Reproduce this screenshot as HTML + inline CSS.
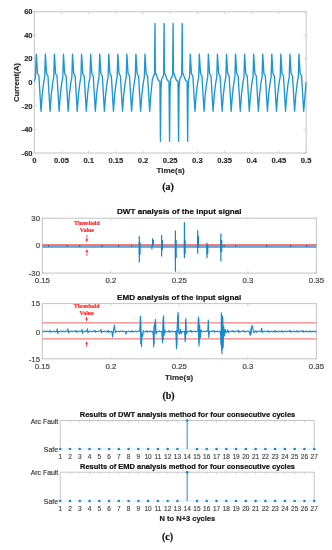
<!DOCTYPE html>
<html><head><meta charset="utf-8"><title>Figure</title>
<style>html,body{margin:0;padding:0;background:#fff;width:332px;height:550px;overflow:hidden}svg{display:block}</style>
</head><body>
<svg width="332" height="550" viewBox="0 0 332 550">
<rect width="332" height="550" fill="#fff"/>
<rect x="34.3" y="11.7" width="271.8" height="141.3" fill="none" stroke="#c4c4c4" stroke-width="1"/>
<path d="M34.3 153v-2.5M34.3 11.7v2.5M61.48 153v-2.5M61.48 11.7v2.5M88.66 153v-2.5M88.66 11.7v2.5M115.84 153v-2.5M115.84 11.7v2.5M143.02 153v-2.5M143.02 11.7v2.5M170.2 153v-2.5M170.2 11.7v2.5M197.38 153v-2.5M197.38 11.7v2.5M224.56 153v-2.5M224.56 11.7v2.5M251.74 153v-2.5M251.74 11.7v2.5M278.92 153v-2.5M278.92 11.7v2.5M306.1 153v-2.5M306.1 11.7v2.5M34.3 153h2.5M306.1 153h-2.5M34.3 129.45h2.5M306.1 129.45h-2.5M34.3 105.9h2.5M306.1 105.9h-2.5M34.3 82.35h2.5M306.1 82.35h-2.5M34.3 58.8h2.5M306.1 58.8h-2.5M34.3 35.25h2.5M306.1 35.25h-2.5M34.3 11.7h2.5M306.1 11.7h-2.5" stroke="#c8c8c8" stroke-width="0.7" fill="none"/>
<path d="M34.3 81.17 L35.4 77.64 L36.3 54.09 L37.5 73.64 L38.1 74.58 L38.9 75.76 L41 111.32 L42.2 94.83 L43.6 83.17 L44.2 79.52 L44.7 77.17 L45.36 54.09 L46.56 73.64 L47.16 74.58 L47.96 75.76 L50.06 111.32 L51.26 94.83 L52.66 83.17 L53.26 79.52 L53.76 77.17 L54.41 54.09 L55.61 73.64 L56.21 74.58 L57.01 75.76 L59.11 111.32 L60.31 94.83 L61.71 83.17 L62.31 79.52 L62.81 77.17 L63.47 54.09 L64.67 73.64 L65.27 74.58 L66.07 75.76 L68.17 111.32 L69.37 94.83 L70.77 83.17 L71.37 79.52 L71.87 77.17 L72.53 54.09 L73.73 73.64 L74.33 74.58 L75.13 75.76 L77.23 111.32 L78.43 94.83 L79.83 83.17 L80.43 79.52 L80.93 77.17 L81.59 54.09 L82.79 73.64 L83.39 74.58 L84.19 75.76 L86.29 111.32 L87.49 94.83 L88.89 83.17 L89.49 79.52 L89.99 77.17 L90.64 54.09 L91.84 73.64 L92.44 74.58 L93.24 75.76 L95.34 111.32 L96.54 94.83 L97.94 83.17 L98.54 79.52 L99.04 77.17 L99.7 54.09 L100.9 73.64 L101.5 74.58 L102.3 75.76 L104.4 111.32 L105.6 94.83 L107 83.17 L107.6 79.52 L108.1 77.17 L108.76 54.09 L109.96 73.64 L110.56 74.58 L111.36 75.76 L113.46 111.32 L114.66 94.83 L116.06 83.17 L116.66 79.52 L117.16 77.17 L117.81 54.09 L119.01 73.64 L119.61 74.58 L120.41 75.76 L122.51 111.32 L123.71 94.83 L125.11 83.17 L125.71 79.52 L126.21 77.17 L126.87 54.09 L128.07 73.64 L128.67 74.58 L129.47 75.76 L131.57 111.32 L132.77 94.83 L134.17 83.17 L134.77 79.52 L135.27 77.17 L135.93 54.09 L137.13 73.64 L137.73 74.58 L138.53 75.76 L140.63 111.32 L141.83 94.83 L143.23 83.17 L143.83 79.52 L144.33 77.17 L144.98 54.09 L146.18 73.64 L146.78 74.58 L147.58 75.76 L149.68 111.32 L150.68 96.48 L152.38 79.29 L153.58 75.76 L154.5 74.7 L155 23.47 L155.35 72.93 L156.2 74.11 L157.4 78.11 L158.6 80.7 L159.9 81.17 L160.45 141.22 L160.95 89.41 L161.6 79.29 L162.8 76.93 L163.6 75.4 L163.6 74.7 L164.1 23.47 L164.45 72.93 L165.3 74.11 L166.5 78.11 L167.7 80.7 L169 81.17 L169.55 141.22 L170.05 89.41 L170.7 79.29 L171.9 76.93 L172.7 75.4 L172.6 74.7 L173.1 23.47 L173.45 72.93 L174.3 74.11 L175.5 78.11 L176.7 80.7 L178 81.17 L178.55 141.22 L179.05 89.41 L179.7 79.29 L180.9 76.93 L181.7 75.4 L181.7 74.7 L182.2 23.47 L182.55 72.93 L183.4 74.11 L184.6 78.11 L185.8 80.7 L187.1 81.17 L187.65 141.22 L188.15 89.41 L188.8 79.29 L189.6 76.46 L190.27 54.09 L191.47 73.64 L192.07 74.58 L192.87 75.76 L194.97 111.32 L196.17 94.83 L197.57 83.17 L198.17 79.52 L198.67 77.17 L199.33 54.09 L200.53 73.64 L201.13 74.58 L201.93 75.76 L204.03 111.32 L205.23 94.83 L206.63 83.17 L207.23 79.52 L207.73 77.17 L208.38 54.09 L209.58 73.64 L210.18 74.58 L210.98 75.76 L213.08 111.32 L214.28 94.83 L215.68 83.17 L216.28 79.52 L216.78 77.17 L217.44 54.09 L218.64 73.64 L219.24 74.58 L220.04 75.76 L222.14 111.32 L223.34 94.83 L224.74 83.17 L225.34 79.52 L225.84 77.17 L226.5 54.09 L227.7 73.64 L228.3 74.58 L229.1 75.76 L231.2 111.32 L232.4 94.83 L233.8 83.17 L234.4 79.52 L234.9 77.17 L235.55 54.09 L236.75 73.64 L237.35 74.58 L238.15 75.76 L240.25 111.32 L241.45 94.83 L242.85 83.17 L243.45 79.52 L243.95 77.17 L244.61 54.09 L245.81 73.64 L246.41 74.58 L247.21 75.76 L249.31 111.32 L250.51 94.83 L251.91 83.17 L252.51 79.52 L253.01 77.17 L253.67 54.09 L254.87 73.64 L255.47 74.58 L256.27 75.76 L258.37 111.32 L259.57 94.83 L260.97 83.17 L261.57 79.52 L262.07 77.17 L262.73 54.09 L263.93 73.64 L264.53 74.58 L265.33 75.76 L267.43 111.32 L268.62 94.83 L270.03 83.17 L270.62 79.52 L271.12 77.17 L271.78 54.09 L272.98 73.64 L273.58 74.58 L274.38 75.76 L276.48 111.32 L277.68 94.83 L279.08 83.17 L279.68 79.52 L280.18 77.17 L280.84 54.09 L282.04 73.64 L282.64 74.58 L283.44 75.76 L285.54 111.32 L286.74 94.83 L288.14 83.17 L288.74 79.52 L289.24 77.17 L289.9 54.09 L291.1 73.64 L291.7 74.58 L292.5 75.76 L294.6 111.32 L295.8 94.83 L297.2 83.17 L297.8 79.52 L298.3 77.17 L298.95 54.09 L300.15 73.64 L300.75 74.58 L301.55 75.76 L303.65 111.32 L306.1 82.35" fill="none" stroke="#1c96d5" stroke-width="1.35" stroke-linejoin="round"/>
<g font-family="'Liberation Sans', Arial, sans-serif" font-weight="bold" font-size="7.6" fill="#262626" stroke="#262626" stroke-width="0.12">
<text x="34.3" y="162.6" text-anchor="middle">0</text>
<text x="61.48" y="162.6" text-anchor="middle">0.05</text>
<text x="88.66" y="162.6" text-anchor="middle">0.1</text>
<text x="115.84" y="162.6" text-anchor="middle">0.15</text>
<text x="143.02" y="162.6" text-anchor="middle">0.2</text>
<text x="170.2" y="162.6" text-anchor="middle">0.25</text>
<text x="197.38" y="162.6" text-anchor="middle">0.3</text>
<text x="224.56" y="162.6" text-anchor="middle">0.35</text>
<text x="251.74" y="162.6" text-anchor="middle">0.4</text>
<text x="278.92" y="162.6" text-anchor="middle">0.45</text>
<text x="306.1" y="162.6" text-anchor="middle">0.5</text>
<text x="32.6" y="155.65" text-anchor="end">-60</text>
<text x="32.6" y="132.1" text-anchor="end">-40</text>
<text x="32.6" y="108.55" text-anchor="end">-20</text>
<text x="32.6" y="85" text-anchor="end">0</text>
<text x="32.6" y="61.45" text-anchor="end">20</text>
<text x="32.6" y="37.9" text-anchor="end">40</text>
<text x="32.6" y="14.35" text-anchor="end">60</text>
</g>
<text x="170.6" y="173.2" text-anchor="middle" font-family="'Liberation Sans', Arial, sans-serif" font-weight="bold" font-size="8" fill="#333" stroke="#333" stroke-width="0.2">Time(s)</text>
<text transform="translate(19.2 82.6) rotate(-90)" text-anchor="middle" font-family="'Liberation Sans', Arial, sans-serif" font-weight="bold" font-size="7.8" fill="#333" stroke="#333" stroke-width="0.2">Current(A)</text>
<text x="168" y="190.3" text-anchor="middle" font-family="'Liberation Serif', 'Times New Roman', serif" font-weight="bold" font-size="10" fill="#111" stroke="#111" stroke-width="0.2">(a)</text>
<rect x="42.3" y="218.2" width="274.1" height="54.9" fill="none" stroke="#c4c4c4" stroke-width="1"/>
<path d="M42.3 273.1v-2.5M42.3 218.2v2.5M110.83 273.1v-2.5M110.83 218.2v2.5M179.35 273.1v-2.5M179.35 218.2v2.5M247.88 273.1v-2.5M247.88 218.2v2.5M316.4 273.1v-2.5M316.4 218.2v2.5M42.3 273.1h2.5M316.4 273.1h-2.5M42.3 245.65h2.5M316.4 245.65h-2.5M42.3 218.2h2.5M316.4 218.2h-2.5" stroke="#c8c8c8" stroke-width="0.7" fill="none"/>
<text x="179.3" y="214.3" text-anchor="middle" font-family="'Liberation Sans', Arial, sans-serif" font-weight="bold" font-size="8.1" fill="#111" stroke="#111" stroke-width="0.2">DWT analysis of the input signal</text>
<path d="M42.3 244.5H316.4M42.3 247.5H316.4" stroke="#f58080" stroke-width="1.1"/>
<path d="M42.3 246H316.4" stroke="#3489cc" stroke-width="1.5"/>
<path d="M48 245.9h1.2M66.7 245.9h1.2M79 245.9h1.2M101.5 245.9h1.2M118 245.9h1.2M131 245.9h1.2M223.5 245.9h1.2M235 245.9h1.2M266 245.9h1.2M290 245.9h1.2M306 245.9h1.2" stroke="#0d4f8c" stroke-width="1.3"/>
<path d="M139.3 236.3V262.6M152.6 238.3V246.5M161.6 234.9V256.4M175.4 230.4V271.8M184.4 222.2V258.2M197.7 230.2V253.8M207 242.8V257.9M220.9 233.6V261.6M151.9 245.5V249.6" stroke="#1582c8" stroke-width="1.2" fill="none"/>
<path d="M139.7 242.3V254.4M153 240V245M162 240V250M175.8 240V258M184.8 240.6V254.1M198.1 236V248M207.4 245V254M221.3 240V252" stroke="#1582c8" stroke-width="1.9" fill="none"/>
<g font-family="'Liberation Serif', 'Times New Roman', serif" font-weight="bold" font-size="5.9" fill="#ff2020" stroke="#ff2020" stroke-width="0.15" text-anchor="middle">
<text x="86.9" y="225.2">Threshold</text>
<text x="86.9" y="232.2">Value</text>
</g>
<path d="M86.9 234.7V240.2" stroke="#ff2a2a" stroke-width="0.8"/>
<path d="M85.5 239.2L88.3 239.2L86.9 242.2Z" fill="#ff2a2a"/>
<path d="M86.9 256V251" stroke="#ff2a2a" stroke-width="0.8"/>
<path d="M85.5 252L88.3 252L86.9 249Z" fill="#ff2a2a"/>
<g font-family="'Liberation Sans', Arial, sans-serif" font-size="7.8" fill="#444" stroke="#444" stroke-width="0.2">
<text x="40.0" y="220.9" text-anchor="end">30</text>
<text x="40.0" y="248.4" text-anchor="end">0</text>
<text x="40.0" y="276.1" text-anchor="end">-30</text>
<text x="42.3" y="283.3" text-anchor="middle">0.15</text>
<text x="110.83" y="283.3" text-anchor="middle">0.2</text>
<text x="179.35" y="283.3" text-anchor="middle">0.25</text>
<text x="247.88" y="283.3" text-anchor="middle">0.3</text>
<text x="316.4" y="283.3" text-anchor="middle">0.35</text>
</g>
<rect x="42.3" y="303.6" width="274.1" height="55.2" fill="none" stroke="#c4c4c4" stroke-width="1"/>
<path d="M42.3 358.8v-2.5M42.3 303.6v2.5M110.83 358.8v-2.5M110.83 303.6v2.5M179.35 358.8v-2.5M179.35 303.6v2.5M247.88 358.8v-2.5M247.88 303.6v2.5M316.4 358.8v-2.5M316.4 303.6v2.5M42.3 303.6h2.5M316.4 303.6h-2.5M42.3 331.2h2.5M316.4 331.2h-2.5M42.3 358.8h2.5M316.4 358.8h-2.5" stroke="#c8c8c8" stroke-width="0.7" fill="none"/>
<text x="179.1" y="299.9" text-anchor="middle" font-family="'Liberation Sans', Arial, sans-serif" font-weight="bold" font-size="8.1" fill="#111" stroke="#111" stroke-width="0.2">EMD analysis of the input signal</text>
<path d="M42.3 322.8H316.4M42.3 338.8H316.4" stroke="#f58080" stroke-width="1.3"/>
<path d="M42.3 331.4L43.3 331.85L44.6 331.05L45.9 331.85L47.2 331.05L48.5 331.85L49.4 331.4L50 330.4L50.5 332.2L51.1 331.4L52.1 331.85L53.4 331.05L54.7 331.85L56.6 331.4L57.2 328.8L57.7 333.6L58.3 331.4L59.3 331.85L60.6 331.05L61.9 331.85L63.2 331.05L64.5 331.85L65.8 331.05L67.4 331.4L68 328.8L68.5 332.9L69.1 331.4L70.1 331.85L71.4 331.05L72.7 331.85L74 331.05L75.4 331.4L76 330.4L76.5 332.2L77.1 331.4L78.1 331.85L79.4 331.05L81.4 331.4L82 329.4L82.5 333.4L83.1 331.4L84.1 331.85L85.4 331.05L86.8 331.4L87.4 328.8L87.9 333L88.5 331.4L89.5 331.85L90.8 331.05L92.1 331.85L93.4 331.05L94.4 331.4L95 330.4L95.5 332.3L96.1 331.4L97.1 331.85L98.4 331.05L100.4 331.4L101 329.4L101.5 332.6L102.1 331.4L103.1 331.85L104.4 331.05L105.7 331.85L107.4 331.4L108 330.2L108.5 332.4L109.1 331.4L110.1 331.85L112 331.4L112.6 337L113.6 330L114.5 325.2L115.3 332.5L116 331.4L117 331.85L118.3 331.05L119.6 331.85L120.9 331.05L122.2 331.85L123.5 331.05L124.8 331.4L125.4 331.9L125.9 334L126.5 331.4L127.5 331.85L128.8 331.05L130.1 331.85L131.4 331.4L132 330.7L132.5 332L133.1 331.4L134.1 331.85L135.4 331.05L136.7 331.85L138 331.05L139.8 331.4L140.4 316L141 331L141.5 346.5L142 333L142.6 336.4L143.3 330.5L144 331.8L145 331.85L146.4 331.4L147 330.6L147.5 332.2L148.1 331.4L149.1 331.85L150.4 331.05L151.7 331.85L152.8 331.4L153.3 336L153.7 346.9L154.2 330L154.6 324L155 328L155.5 319.4L156 334L156.6 332.5L157.2 331.4L158.2 331.85L159.5 331.05L160.8 331.85L161.8 331.4L162.5 342.8L163 325L163.6 315.9L164.1 335.5L164.8 330L165.5 332L166.5 331.85L168.4 331.4L169 330.5L169.5 332.4L170.1 331.4L171.1 331.85L172.4 331.05L173.7 331.85L175.8 331.4L176.5 348.6L177.2 327L178.1 312.2L178.8 333L179.6 334L180.4 329L181.2 333.8L182 331.4L183 331.85L184.6 331.4L185.2 341.7L185.8 318.5L186.4 334L187.2 331.4L188.2 331.85L189.5 331.05L190.4 331.4L191 330.4L191.5 332.2L192.1 331.4L193.1 331.85L194.4 331.05L195.7 331.85L197.8 331.4L198.5 317L199 346L199.6 325L200.3 338L201 330L201.8 331.4L202.8 331.85L204.1 331.05L205.4 331.85L206.7 331.05L207.8 331.4L208.3 320L208.8 337.5L209.4 331.4L210.4 331.85L211.7 331.05L213.4 331.4L214 330.5L214.5 332.2L215.1 331.4L216.1 331.85L217.4 331.05L218.7 331.85L220.5 331.4L221 345L221.4 312.8L221.9 353.8L222.5 316L223.1 348L223.7 326L224.4 336L225.2 329.5L226 332.5L226.8 331.4L227.1 331.4L227.7 329.8L228.2 332.6L228.8 331.4L229.8 331.85L231.1 331.05L232.4 331.4L233 330.6L233.5 332L234.1 331.4L235.1 331.85L236.4 331.05L237.9 331.4L238.5 330.2L239 332.4L239.6 331.4L240.6 331.85L241.9 331.05L243.4 331.4L244 330.7L244.5 332L245.1 331.4L246.1 331.85L247.4 331.05L249.4 331.4L250.2 335.5L251.4 327L252.4 325.6L253.3 331.5L254 332.6L254.8 331.4L255.4 331.4L256 330.6L256.5 332.1L257.1 331.4L258.1 331.85L259.4 331.05L261.1 331.4L261.7 328.2L262.2 332.4L262.8 331.4L263.8 331.85L265.1 331.05L266.4 331.85L267.4 331.4L268 330.6L268.5 332.1L269.1 331.4L270.1 331.85L271.4 331.05L272.7 331.85L274.4 331.4L275 330.4L275.5 332.2L276.1 331.4L277.1 331.85L278.4 331.05L279.7 331.85L281.4 331.4L282 330.7L282.5 332L283.1 331.4L284.1 331.85L285.4 331.05L286.7 331.85L288 331.05L289.4 331.4L290 330.4L290.5 332.2L291.1 331.4L292.1 331.85L293.4 331.05L294.7 331.85L296.4 331.4L297 330.7L297.5 332L298.1 331.4L299.1 331.85L300.4 331.05L302.4 331.4L303 330.5L303.5 332.1L304.1 331.4L305.1 331.85L306.4 331.05L307.7 331.85L309.4 331.4L310 330.8L310.5 331.9L311.1 331.4L312.1 331.85L313.4 331.05L314.7 331.85L316.4 331.4" stroke="#1a8bd0" stroke-width="1.15" fill="none" stroke-linejoin="round"/>
<path d="M140.7 320V344M154 326V344M155.2 321V333M163.2 318V340M176.8 330V346M177.8 315V332M185.6 321V339M198.9 319V343M208.5 322V335M221.6 315V351M222.8 318V346M251.3 328V334" stroke="#1a86cc" stroke-width="1.0" fill="none"/>
<g font-family="'Liberation Serif', 'Times New Roman', serif" font-weight="bold" font-size="5.9" fill="#ff2020" stroke="#ff2020" stroke-width="0.15" text-anchor="middle">
<text x="86.6" y="308.2">Threshold</text>
<text x="86.6" y="314.9">Value</text>
</g>
<path d="M86.6 316.8V319.6" stroke="#ff2a2a" stroke-width="0.8"/>
<path d="M85.2 318.6L88 318.6L86.6 321.6Z" fill="#ff2a2a"/>
<path d="M86.6 346.6V343.2" stroke="#ff2a2a" stroke-width="0.8"/>
<path d="M85.2 344.2L88 344.2L86.6 341.2Z" fill="#ff2a2a"/>
<g font-family="'Liberation Sans', Arial, sans-serif" font-size="7.8" fill="#444" stroke="#444" stroke-width="0.2">
<text x="40.0" y="306.4" text-anchor="end">15</text>
<text x="40.0" y="334.5" text-anchor="end">0</text>
<text x="40.0" y="362.4" text-anchor="end">-15</text>
<text x="42.3" y="368.9" text-anchor="middle">0.15</text>
<text x="110.83" y="368.9" text-anchor="middle">0.2</text>
<text x="179.35" y="368.9" text-anchor="middle">0.25</text>
<text x="247.88" y="368.9" text-anchor="middle">0.3</text>
<text x="316.4" y="368.9" text-anchor="middle">0.35</text>
</g>
<text x="179.1" y="380.4" text-anchor="middle" font-family="'Liberation Sans', Arial, sans-serif" font-weight="bold" font-size="8" fill="#333" stroke="#333" stroke-width="0.2">Time(s)</text>
<text x="168.5" y="399.4" text-anchor="middle" font-family="'Liberation Serif', 'Times New Roman', serif" font-weight="bold" font-size="10" fill="#111" stroke="#111" stroke-width="0.2">(b)</text>
<path d="M60.2 449V420.5H314.2V449" fill="none" stroke="#c4c4c4" stroke-width="1"/>
<path d="M69.97 420.5v2.2M79.74 420.5v2.2M89.51 420.5v2.2M99.28 420.5v2.2M109.05 420.5v2.2M118.82 420.5v2.2M128.58 420.5v2.2M138.35 420.5v2.2M148.12 420.5v2.2M157.89 420.5v2.2M167.66 420.5v2.2M177.43 420.5v2.2M187.2 420.5v2.2M196.97 420.5v2.2M206.74 420.5v2.2M216.51 420.5v2.2M226.28 420.5v2.2M236.05 420.5v2.2M245.82 420.5v2.2M255.58 420.5v2.2M265.35 420.5v2.2M275.12 420.5v2.2M284.89 420.5v2.2M294.66 420.5v2.2M304.43 420.5v2.2" stroke="#c8c8c8" stroke-width="0.7"/>
<path d="M60.2 449H314.2" stroke="#b4cde2" stroke-width="0.8" stroke-dasharray="0.9 0.7"/>
<path d="M187.2 420.5V449" stroke="#3ba3dc" stroke-width="1.2"/>
<circle cx="60.2" cy="449" r="1.3" fill="#1886cf"/>
<circle cx="69.97" cy="449" r="1.3" fill="#1886cf"/>
<circle cx="79.74" cy="449" r="1.3" fill="#1886cf"/>
<circle cx="89.51" cy="449" r="1.3" fill="#1886cf"/>
<circle cx="99.28" cy="449" r="1.3" fill="#1886cf"/>
<circle cx="109.05" cy="449" r="1.3" fill="#1886cf"/>
<circle cx="118.82" cy="449" r="1.3" fill="#1886cf"/>
<circle cx="128.58" cy="449" r="1.3" fill="#1886cf"/>
<circle cx="138.35" cy="449" r="1.3" fill="#1886cf"/>
<circle cx="148.12" cy="449" r="1.3" fill="#1886cf"/>
<circle cx="157.89" cy="449" r="1.3" fill="#1886cf"/>
<circle cx="167.66" cy="449" r="1.3" fill="#1886cf"/>
<circle cx="177.43" cy="449" r="1.3" fill="#1886cf"/>
<circle cx="187.2" cy="420.5" r="1.3" fill="#1886cf"/>
<circle cx="196.97" cy="449" r="1.3" fill="#1886cf"/>
<circle cx="206.74" cy="449" r="1.3" fill="#1886cf"/>
<circle cx="216.51" cy="449" r="1.3" fill="#1886cf"/>
<circle cx="226.28" cy="449" r="1.3" fill="#1886cf"/>
<circle cx="236.05" cy="449" r="1.3" fill="#1886cf"/>
<circle cx="245.82" cy="449" r="1.3" fill="#1886cf"/>
<circle cx="255.58" cy="449" r="1.3" fill="#1886cf"/>
<circle cx="265.35" cy="449" r="1.3" fill="#1886cf"/>
<circle cx="275.12" cy="449" r="1.3" fill="#1886cf"/>
<circle cx="284.89" cy="449" r="1.3" fill="#1886cf"/>
<circle cx="294.66" cy="449" r="1.3" fill="#1886cf"/>
<circle cx="304.43" cy="449" r="1.3" fill="#1886cf"/>
<circle cx="314.2" cy="449" r="1.3" fill="#1886cf"/>
<text x="187.5" y="416.6" text-anchor="middle" font-family="'Liberation Sans', Arial, sans-serif" font-weight="bold" font-size="7.5" fill="#111" stroke="#111" stroke-width="0.2">Results of DWT analysis method for four consecutive cycles</text>
<g font-family="'Liberation Sans', Arial, sans-serif" font-size="6.5" fill="#444" stroke="#444" stroke-width="0.15" text-anchor="middle">
<text x="60.2" y="458.8">1</text>
<text x="69.97" y="458.8">2</text>
<text x="79.74" y="458.8">3</text>
<text x="89.51" y="458.8">4</text>
<text x="99.28" y="458.8">5</text>
<text x="109.05" y="458.8">6</text>
<text x="118.82" y="458.8">7</text>
<text x="128.58" y="458.8">8</text>
<text x="138.35" y="458.8">9</text>
<text x="148.12" y="458.8">10</text>
<text x="157.89" y="458.8">11</text>
<text x="167.66" y="458.8">12</text>
<text x="177.43" y="458.8">13</text>
<text x="187.2" y="458.8">14</text>
<text x="196.97" y="458.8">15</text>
<text x="206.74" y="458.8">16</text>
<text x="216.51" y="458.8">17</text>
<text x="226.28" y="458.8">18</text>
<text x="236.05" y="458.8">19</text>
<text x="245.82" y="458.8">20</text>
<text x="255.58" y="458.8">21</text>
<text x="265.35" y="458.8">22</text>
<text x="275.12" y="458.8">23</text>
<text x="284.89" y="458.8">24</text>
<text x="294.66" y="458.8">25</text>
<text x="304.43" y="458.8">26</text>
<text x="314.2" y="458.8">27</text>
</g>
<g font-family="'Liberation Sans', Arial, sans-serif" font-size="6.9" fill="#333" stroke="#333" stroke-width="0.15" text-anchor="end">
<text x="58.3" y="423.6">Arc Fault</text>
<text x="58.0" y="451.9">Safe</text>
</g>
<path d="M60.2 501V472.2H314.2V501" fill="none" stroke="#c4c4c4" stroke-width="1"/>
<path d="M69.97 472.2v2.2M79.74 472.2v2.2M89.51 472.2v2.2M99.28 472.2v2.2M109.05 472.2v2.2M118.82 472.2v2.2M128.58 472.2v2.2M138.35 472.2v2.2M148.12 472.2v2.2M157.89 472.2v2.2M167.66 472.2v2.2M177.43 472.2v2.2M187.2 472.2v2.2M196.97 472.2v2.2M206.74 472.2v2.2M216.51 472.2v2.2M226.28 472.2v2.2M236.05 472.2v2.2M245.82 472.2v2.2M255.58 472.2v2.2M265.35 472.2v2.2M275.12 472.2v2.2M284.89 472.2v2.2M294.66 472.2v2.2M304.43 472.2v2.2" stroke="#c8c8c8" stroke-width="0.7"/>
<path d="M60.2 501H314.2" stroke="#b4cde2" stroke-width="0.8" stroke-dasharray="0.9 0.7"/>
<path d="M187.2 472.2V501" stroke="#3ba3dc" stroke-width="1.2"/>
<circle cx="60.2" cy="501" r="1.3" fill="#1886cf"/>
<circle cx="69.97" cy="501" r="1.3" fill="#1886cf"/>
<circle cx="79.74" cy="501" r="1.3" fill="#1886cf"/>
<circle cx="89.51" cy="501" r="1.3" fill="#1886cf"/>
<circle cx="99.28" cy="501" r="1.3" fill="#1886cf"/>
<circle cx="109.05" cy="501" r="1.3" fill="#1886cf"/>
<circle cx="118.82" cy="501" r="1.3" fill="#1886cf"/>
<circle cx="128.58" cy="501" r="1.3" fill="#1886cf"/>
<circle cx="138.35" cy="501" r="1.3" fill="#1886cf"/>
<circle cx="148.12" cy="501" r="1.3" fill="#1886cf"/>
<circle cx="157.89" cy="501" r="1.3" fill="#1886cf"/>
<circle cx="167.66" cy="501" r="1.3" fill="#1886cf"/>
<circle cx="177.43" cy="501" r="1.3" fill="#1886cf"/>
<circle cx="187.2" cy="472.2" r="1.3" fill="#1886cf"/>
<circle cx="196.97" cy="501" r="1.3" fill="#1886cf"/>
<circle cx="206.74" cy="501" r="1.3" fill="#1886cf"/>
<circle cx="216.51" cy="501" r="1.3" fill="#1886cf"/>
<circle cx="226.28" cy="501" r="1.3" fill="#1886cf"/>
<circle cx="236.05" cy="501" r="1.3" fill="#1886cf"/>
<circle cx="245.82" cy="501" r="1.3" fill="#1886cf"/>
<circle cx="255.58" cy="501" r="1.3" fill="#1886cf"/>
<circle cx="265.35" cy="501" r="1.3" fill="#1886cf"/>
<circle cx="275.12" cy="501" r="1.3" fill="#1886cf"/>
<circle cx="284.89" cy="501" r="1.3" fill="#1886cf"/>
<circle cx="294.66" cy="501" r="1.3" fill="#1886cf"/>
<circle cx="304.43" cy="501" r="1.3" fill="#1886cf"/>
<circle cx="314.2" cy="501" r="1.3" fill="#1886cf"/>
<text x="187.5" y="468.8" text-anchor="middle" font-family="'Liberation Sans', Arial, sans-serif" font-weight="bold" font-size="7.5" fill="#111" stroke="#111" stroke-width="0.2">Results of EMD analysis method for four consecutive cycles</text>
<g font-family="'Liberation Sans', Arial, sans-serif" font-size="6.5" fill="#444" stroke="#444" stroke-width="0.15" text-anchor="middle">
<text x="60.2" y="510.6">1</text>
<text x="69.97" y="510.6">2</text>
<text x="79.74" y="510.6">3</text>
<text x="89.51" y="510.6">4</text>
<text x="99.28" y="510.6">5</text>
<text x="109.05" y="510.6">6</text>
<text x="118.82" y="510.6">7</text>
<text x="128.58" y="510.6">8</text>
<text x="138.35" y="510.6">9</text>
<text x="148.12" y="510.6">10</text>
<text x="157.89" y="510.6">11</text>
<text x="167.66" y="510.6">12</text>
<text x="177.43" y="510.6">13</text>
<text x="187.2" y="510.6">14</text>
<text x="196.97" y="510.6">15</text>
<text x="206.74" y="510.6">16</text>
<text x="216.51" y="510.6">17</text>
<text x="226.28" y="510.6">18</text>
<text x="236.05" y="510.6">19</text>
<text x="245.82" y="510.6">20</text>
<text x="255.58" y="510.6">21</text>
<text x="265.35" y="510.6">22</text>
<text x="275.12" y="510.6">23</text>
<text x="284.89" y="510.6">24</text>
<text x="294.66" y="510.6">25</text>
<text x="304.43" y="510.6">26</text>
<text x="314.2" y="510.6">27</text>
</g>
<g font-family="'Liberation Sans', Arial, sans-serif" font-size="6.9" fill="#333" stroke="#333" stroke-width="0.15" text-anchor="end">
<text x="58.3" y="475.3">Arc Fault</text>
<text x="58.0" y="503.9">Safe</text>
</g>
<text x="187.4" y="520.6" text-anchor="middle" font-family="'Liberation Sans', Arial, sans-serif" font-weight="bold" font-size="7.5" fill="#222" stroke="#222" stroke-width="0.2">N to N+3 cycles</text>
<text x="167.6" y="539.7" text-anchor="middle" font-family="'Liberation Serif', 'Times New Roman', serif" font-weight="bold" font-size="10" fill="#111" stroke="#111" stroke-width="0.2">(c)</text>
</svg>
</body></html>
